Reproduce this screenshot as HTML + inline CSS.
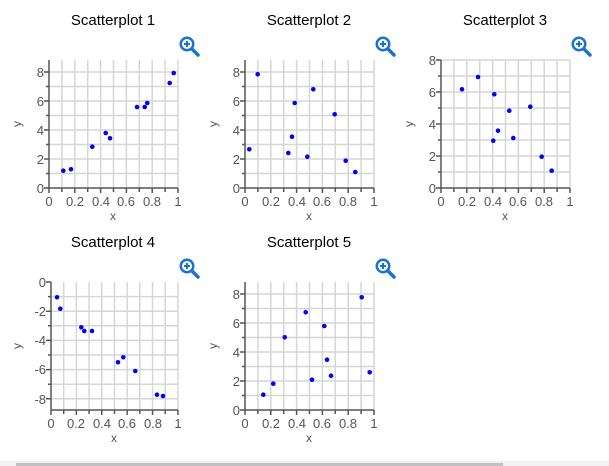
<!DOCTYPE html>
<html><head><meta charset="utf-8"><style>
html,body{margin:0;padding:0;background:#fff;width:609px;height:466px;overflow:hidden}
svg{display:block;font-family:"Liberation Sans",sans-serif}
.t{font-size:15px;fill:#000;text-anchor:middle}
.tl{font-size:13px;fill:#555}
.xl{text-anchor:middle}
.yl{text-anchor:end}
.al{font-size:12px;fill:#555}
.g{stroke:#d6d6d6;stroke-width:1.5;fill:none}
.ax{stroke:#555;stroke-width:1.5;fill:none}
.d{fill:#0000ff}
</style></head><body>
<svg width="609" height="466" viewBox="0 0 609 466">
<defs>
<g id="gv"><path class="g" d="M12.9 0V128M25.8 0V128M38.7 0V128M51.6 0V128M64.5 0V128M77.4 0V128M90.3 0V128M103.2 0V128M116.1 0V128M129 0V128"/></g>
<g id="xt"><path class="ax" d="M0 0H129M0 0V5M12.9 0V4M25.8 0V5M38.7 0V4M51.6 0V5M64.5 0V4M77.4 0V5M90.3 0V4M103.2 0V5M116.1 0V4M129 0V5"/></g>
<g id="zi"><circle cx="0" cy="0" r="7.5" fill="#1a73d2"/><circle cx="0" cy="0" r="5" fill="#fff"/><path d="M-3 0H3M0 -3V3" stroke="#1a73d2" stroke-width="2"/><path d="M5 5L11 11" stroke="#1a73d2" stroke-width="3.5" stroke-linecap="round"/></g>
</defs>

<!-- Plot 1 -->
<text class="t" x="113" y="25">Scatterplot 1</text>
<use href="#zi" x="187" y="44"/>
<g transform="translate(49,60)">
<use href="#gv"/>
<path class="g" d="M0 113.5H129M0 99H129M0 84.5H129M0 70H129M0 55.5H129M0 41H129M0 26.5H129M0 12H129"/>
<path class="ax" d="M0 0V128M0 128H-5M0 113.5H-3M0 99H-5M0 84.5H-3M0 70H-5M0 55.5H-3M0 41H-5M0 26.5H-3M0 12H-5"/>
<use href="#xt" y="128"/>
</g>
<g class="tl yl"><text x="44" y="193">0</text><text x="44" y="164">2</text><text x="44" y="135">4</text><text x="44" y="106">6</text><text x="44" y="77">8</text></g>
<g class="tl xl"><text x="49" y="206">0</text><text x="75" y="206">0.2</text><text x="101" y="206">0.4</text><text x="126" y="206">0.6</text><text x="152" y="206">0.8</text><text x="178" y="206">1</text></g>
<text class="al xl" x="113" y="220" text-anchor="middle">x</text>
<text class="al" transform="translate(21,124) rotate(-90)" text-anchor="middle">y</text>
<g class="d"><circle cx="63.3" cy="170.7" r="2.3"/><circle cx="71" cy="169.3" r="2.3"/><circle cx="92.3" cy="146.7" r="2.3"/><circle cx="105.7" cy="133" r="2.3"/><circle cx="110" cy="138.3" r="2.3"/><circle cx="137" cy="107" r="2.3"/><circle cx="144.7" cy="107" r="2.3"/><circle cx="147.3" cy="103" r="2.3"/><circle cx="169.7" cy="83" r="2.3"/><circle cx="173.7" cy="73" r="2.3"/></g>

<!-- Plot 2 -->
<text class="t" x="309" y="25">Scatterplot 2</text>
<use href="#zi" x="383" y="44"/>
<g transform="translate(245,60)">
<use href="#gv"/>
<path class="g" d="M0 113.5H129M0 99H129M0 84.5H129M0 70H129M0 55.5H129M0 41H129M0 26.5H129M0 12H129"/>
<path class="ax" d="M0 0V128M0 128H-5M0 113.5H-3M0 99H-5M0 84.5H-3M0 70H-5M0 55.5H-3M0 41H-5M0 26.5H-3M0 12H-5"/>
<use href="#xt" y="128"/>
</g>
<g class="tl yl"><text x="240" y="193">0</text><text x="240" y="164">2</text><text x="240" y="135">4</text><text x="240" y="106">6</text><text x="240" y="77">8</text></g>
<g class="tl xl"><text x="245" y="206">0</text><text x="271" y="206">0.2</text><text x="297" y="206">0.4</text><text x="322" y="206">0.6</text><text x="348" y="206">0.8</text><text x="374" y="206">1</text></g>
<text class="al" x="309" y="220" text-anchor="middle">x</text>
<text class="al" transform="translate(217,124) rotate(-90)" text-anchor="middle">y</text>
<g class="d"><circle cx="249.3" cy="149.3" r="2.3"/><circle cx="257.7" cy="74.3" r="2.3"/><circle cx="288.3" cy="153" r="2.3"/><circle cx="292" cy="136.7" r="2.3"/><circle cx="294.7" cy="103" r="2.3"/><circle cx="307.3" cy="156.7" r="2.3"/><circle cx="313.3" cy="89.3" r="2.3"/><circle cx="334.7" cy="114.3" r="2.3"/><circle cx="345.7" cy="160.7" r="2.3"/><circle cx="355.3" cy="172" r="2.3"/></g>

<!-- Plot 3 -->
<text class="t" x="505" y="25">Scatterplot 3</text>
<use href="#zi" x="579" y="44"/>
<g transform="translate(441,60)">
<use href="#gv"/>
<path class="g" d="M0 112H129M0 96H129M0 80H129M0 64H129M0 48H129M0 32H129M0 16H129M0 0H129"/>
<path class="ax" d="M0 0V128M0 128H-5M0 112H-3M0 96H-5M0 80H-3M0 64H-5M0 48H-3M0 32H-5M0 16H-3M0 0H-5"/>
<use href="#xt" y="128"/>
</g>
<g class="tl yl"><text x="436" y="193">0</text><text x="436" y="161">2</text><text x="436" y="129">4</text><text x="436" y="97">6</text><text x="436" y="65">8</text></g>
<g class="tl xl"><text x="441" y="206">0</text><text x="467" y="206">0.2</text><text x="493" y="206">0.4</text><text x="518" y="206">0.6</text><text x="544" y="206">0.8</text><text x="570" y="206">1</text></g>
<text class="al" x="505" y="220" text-anchor="middle">x</text>
<text class="al" transform="translate(413,124) rotate(-90)" text-anchor="middle">y</text>
<g class="d"><circle cx="462" cy="89.3" r="2.3"/><circle cx="478" cy="77" r="2.3"/><circle cx="494.3" cy="94.3" r="2.3"/><circle cx="509.3" cy="110.7" r="2.3"/><circle cx="530.3" cy="106.7" r="2.3"/><circle cx="498" cy="130.7" r="2.3"/><circle cx="513.3" cy="138" r="2.3"/><circle cx="493.3" cy="140.7" r="2.3"/><circle cx="541.7" cy="156.7" r="2.3"/><circle cx="551.7" cy="170.7" r="2.3"/></g>

<!-- Plot 4 -->
<text class="t" x="113" y="247">Scatterplot 4</text>
<use href="#zi" x="187" y="266"/>
<g transform="translate(51,282)">
<g transform="scale(0.984,1)"><use href="#gv"/></g>
<path class="g" d="M0 14.6H127M0 29.2H127M0 43.8H127M0 58.4H127M0 73H127M0 87.6H127M0 102.2H127M0 116.8H127"/>
<path class="ax" d="M0 0V128M0 0H-5M0 14.6H-3M0 29.2H-5M0 43.8H-3M0 58.4H-5M0 73H-3M0 87.6H-5M0 102.2H-3M0 116.8H-5"/>
<g transform="translate(0,128) scale(0.984,1)"><use href="#xt"/></g>
</g>
<g class="tl yl"><text x="46" y="287">0</text><text x="46" y="316">-2</text><text x="46" y="345">-4</text><text x="46" y="374">-6</text><text x="46" y="404">-8</text></g>
<g class="tl xl"><text x="51" y="428">0</text><text x="76" y="428">0.2</text><text x="102" y="428">0.4</text><text x="127" y="428">0.6</text><text x="153" y="428">0.8</text><text x="178" y="428">1</text></g>
<text class="al" x="114" y="442" text-anchor="middle">x</text>
<text class="al" transform="translate(21,346) rotate(-90)" text-anchor="middle">y</text>
<g class="d"><circle cx="57" cy="297.3" r="2.3"/><circle cx="60.3" cy="308.7" r="2.3"/><circle cx="81.3" cy="327.3" r="2.3"/><circle cx="84.3" cy="331" r="2.3"/><circle cx="92" cy="331" r="2.3"/><circle cx="118" cy="362.3" r="2.3"/><circle cx="123.3" cy="357.3" r="2.3"/><circle cx="135.3" cy="371" r="2.3"/><circle cx="157" cy="394.7" r="2.3"/><circle cx="163" cy="396" r="2.3"/></g>

<!-- Plot 5 -->
<text class="t" x="309" y="247">Scatterplot 5</text>
<use href="#zi" x="383" y="266"/>
<g transform="translate(245,282)">
<use href="#gv"/>
<path class="g" d="M0 113.5H129M0 99H129M0 84.5H129M0 70H129M0 55.5H129M0 41H129M0 26.5H129M0 12H129"/>
<path class="ax" d="M0 0V128M0 128H-5M0 113.5H-3M0 99H-5M0 84.5H-3M0 70H-5M0 55.5H-3M0 41H-5M0 26.5H-3M0 12H-5"/>
<use href="#xt" y="128"/>
</g>
<g class="tl yl"><text x="240" y="415">0</text><text x="240" y="386">2</text><text x="240" y="357">4</text><text x="240" y="328">6</text><text x="240" y="299">8</text></g>
<g class="tl xl"><text x="245" y="428">0</text><text x="271" y="428">0.2</text><text x="297" y="428">0.4</text><text x="322" y="428">0.6</text><text x="348" y="428">0.8</text><text x="374" y="428">1</text></g>
<text class="al" x="309" y="442" text-anchor="middle">x</text>
<text class="al" transform="translate(217,346) rotate(-90)" text-anchor="middle">y</text>
<g class="d"><circle cx="263.3" cy="394.7" r="2.3"/><circle cx="273.3" cy="383.7" r="2.3"/><circle cx="284.7" cy="337.3" r="2.3"/><circle cx="305.7" cy="312.3" r="2.3"/><circle cx="312" cy="379.7" r="2.3"/><circle cx="324.3" cy="326" r="2.3"/><circle cx="327" cy="359.7" r="2.3"/><circle cx="331" cy="375.7" r="2.3"/><circle cx="361.7" cy="297.3" r="2.3"/><circle cx="369.7" cy="372.3" r="2.3"/></g>

<!-- scrollbar -->
<rect x="0" y="461" width="609" height="5" fill="#f1f1f1"/>
<rect x="16" y="463" width="487" height="3" fill="#c1c1c1"/>
</svg>
</body></html>
